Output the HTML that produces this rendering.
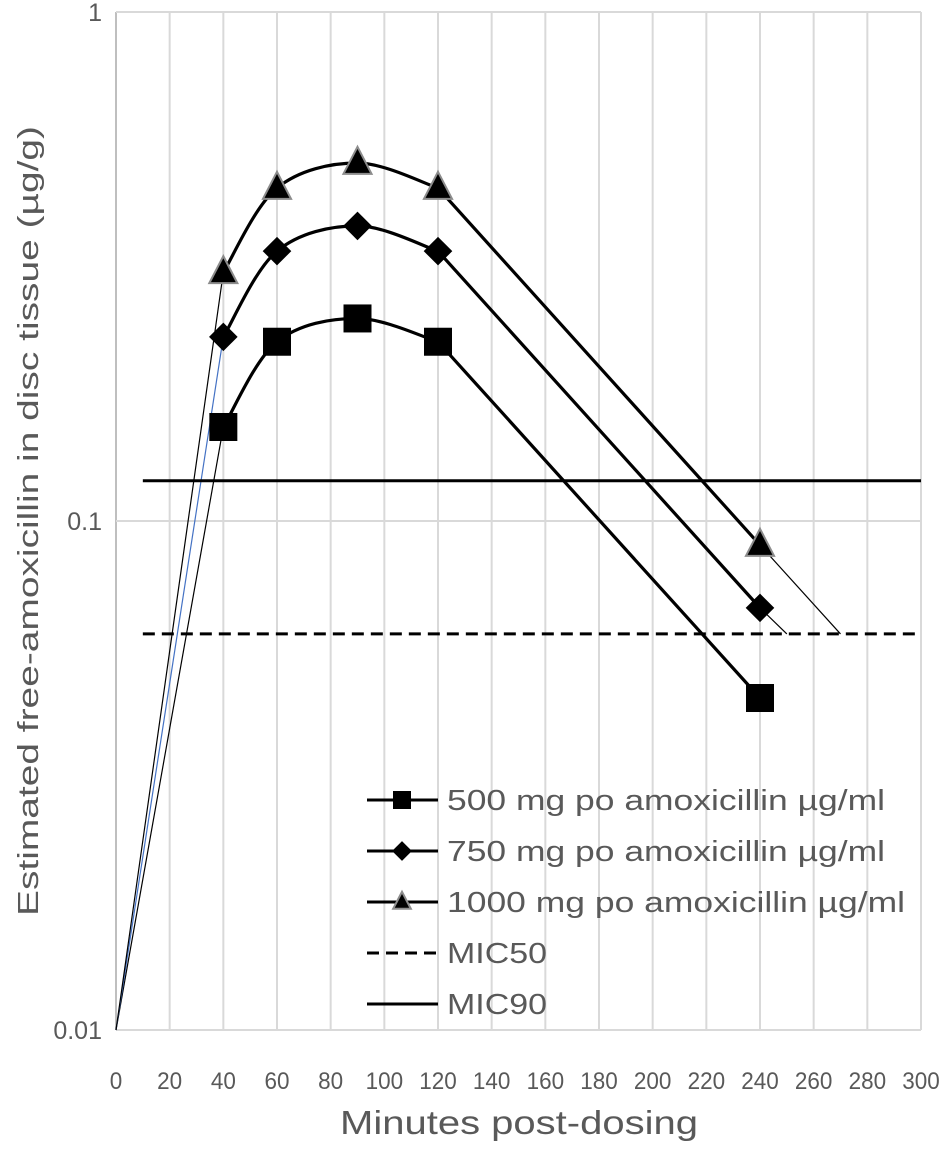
<!DOCTYPE html>
<html><head><meta charset="utf-8"><style>body{margin:0;background:#fff}svg{display:block}text{font-family:"Liberation Sans",sans-serif;fill:#595959}</style></head>
<body>
<svg id="chart" width="945" height="1151" viewBox="0 0 945 1151" xmlns="http://www.w3.org/2000/svg">
<g id="grid"></g>
<g id="series"></g>
<g id="axes"></g>
<text transform="translate(38,521) rotate(-90)" text-anchor="middle" font-size="29" textLength="790" lengthAdjust="spacingAndGlyphs">Estimated free-amoxicillin in disc tissue (µg/g)</text>
<text x="519" y="1134" text-anchor="middle" font-size="33" textLength="358" lengthAdjust="spacingAndGlyphs">Minutes post-dosing</text>
<g id="legend"></g>
</svg>
<script>
const xTicks=[0,20,40,60,80,100,120,140,160,180,200,220,240,260,280,300];
const yTicks=[0.01,0.1,1];
const yTickLabels=["0.01","0.1","1"];
const times=[40,60,90,120,240];
const s500=[0.153,0.225,0.25,0.225,0.0449];
const s750=[0.23,0.339,0.38,0.339,0.0675];
const s1000=[0.308,0.451,0.505,0.451,0.0897];
const extEnd750=[250,0.06];
const extEnd1000=[270,0.06];
const mic50=0.06, mic90=0.12;
const micStart=10, micEnd=300;
const seriesNames=["500 mg po amoxicillin µg/ml","750 mg po amoxicillin µg/ml","1000 mg po amoxicillin µg/ml","MIC50","MIC90"];

const NS="http://www.w3.org/2000/svg";
const X=v=>116+(v/300)*805;
const Y=v=>1030-(Math.log10(v)+2)*509;
function mk(tag,attrs,parent){const e=document.createElementNS(NS,tag);for(const k in attrs)e.setAttribute(k,attrs[k]);parent.appendChild(e);return e;}
const grid=document.getElementById('grid'),ser=document.getElementById('series'),axes=document.getElementById('axes'),leg=document.getElementById('legend');

xTicks.forEach((t,i)=>{
  const l=mk('line',{x1:X(t),x2:X(t),y1:Y(1),y2:Y(0.01),stroke:i==0?'#bfbfbf':'#d9d9d9','stroke-width':2},grid);
  
  
  const tx=mk('text',{x:X(t),y:1089,'text-anchor':'middle','font-size':24,textLength:String(t).length*12.5,lengthAdjust:'spacingAndGlyphs'},axes);
  tx.textContent=t;
  
  
});
yTicks.forEach((t,i)=>{
  const l=mk('line',{x1:X(0),x2:X(300),y1:Y(t),y2:Y(t),stroke:'#d9d9d9','stroke-width':2},grid);
  
  
  const tx=mk('text',{x:X(0)-14,y:Y(t)+9,'text-anchor':'end','font-size':25},axes);
  tx.textContent=yTickLabels[i];
  
  
});

[[s500,'#000'],[s750,'#4472c4'],[s1000,'#000']].forEach(([s,c])=>{
  const l=mk('line',{x1:X(0),y1:Y(0.01),x2:X(times[0]),y2:Y(s[0]),stroke:c,'stroke-width':1.2},ser);
  
  
});
[[s750,extEnd750],[s1000,extEnd1000]].forEach(([s,e])=>{
  const l=mk('line',{x1:X(240),y1:Y(s[4]),x2:X(e[0]),y2:Y(e[1]),stroke:'#000','stroke-width':1.2},ser);
  
  
});
let m=mk('line',{x1:X(micStart),x2:X(micEnd),y1:Y(mic50),y2:Y(mic50),stroke:'#000','stroke-width':3,'stroke-dasharray':'12 7'},ser);


m=mk('line',{x1:X(micStart),x2:X(micEnd),y1:Y(mic90),y2:Y(mic90),stroke:'#000','stroke-width':3},ser);



function curve(s){
  const all=times.map((t,i)=>[X(t),Y(s[i])]);
  const p=all.slice(0,4);
  let d=`M${p[0][0]},${p[0][1]}`;
  for(let i=0;i<p.length-1;i++){
    const p0=p[i-1]||p[i],p1=p[i],p2=p[i+1],p3=p[i+2]||p2;
    const k=1/6;
    const c1=[p1[0]+(p2[0]-p0[0])*k,p1[1]+(p2[1]-p0[1])*k];
    const c2=[p2[0]-(p3[0]-p1[0])*k,p2[1]-(p3[1]-p1[1])*k];
    d+=` C${c1[0]},${c1[1]} ${c2[0]},${c2[1]} ${p2[0]},${p2[1]}`;
  }
  d+=` L${all[4][0]},${all[4][1]}`;
  return d;
}
function marker(type,x,y,sz,parent){
  let e;
  if(type=='sq')e=mk('rect',{x:x-sz/2,y:y-sz/2,width:sz,height:sz,fill:'#000'},parent);
  else if(type=='di')e=mk('polygon',{points:`${x},${y-sz*0.55} ${x+sz*0.55},${y} ${x},${y+sz*0.55} ${x-sz*0.55},${y}`,fill:'#000'},parent);
  else e=mk('polygon',{points:`${x},${y-sz*0.6} ${x+sz*0.52},${y+sz*0.4} ${x-sz*0.52},${y+sz*0.4}`,fill:'#000',stroke:'#8c8c8c','stroke-width':2},parent);
  return e;
}
[[s500,'sq',28,'series-500mg'],[s750,'di',26,'series-750mg'],[s1000,'tr',27,'series-1000mg']].forEach(([s,t,sz,n])=>{
  const p=mk('path',{d:curve(s),fill:'none',stroke:'#000','stroke-width':3.2},ser);
  
  
  times.forEach((tt,i)=>{
    const e=marker(t,X(tt),Y(s[i]),sz,ser);
    
    
  });
});

const types=['sq','di','tr','dash','solid'];
const widths=[438,438,458,100,100];
seriesNames.forEach((n,i)=>{
  const y=800+i*51;
  const g=mk('g',{},leg);
  
  
  const l=mk('line',{x1:367,x2:438,y1:y,y2:y,stroke:'#000','stroke-width':3},g);
  if(types[i]=='dash')l.setAttribute('stroke-dasharray','12 7');
  if(i<3)marker(types[i],402,y,i==2?17:18,g);
  const tx=mk('text',{x:447,y:y+10,'font-size':29,textLength:widths[i],lengthAdjust:'spacingAndGlyphs'},g);
  tx.textContent=n;
});
</script>
</body></html>
